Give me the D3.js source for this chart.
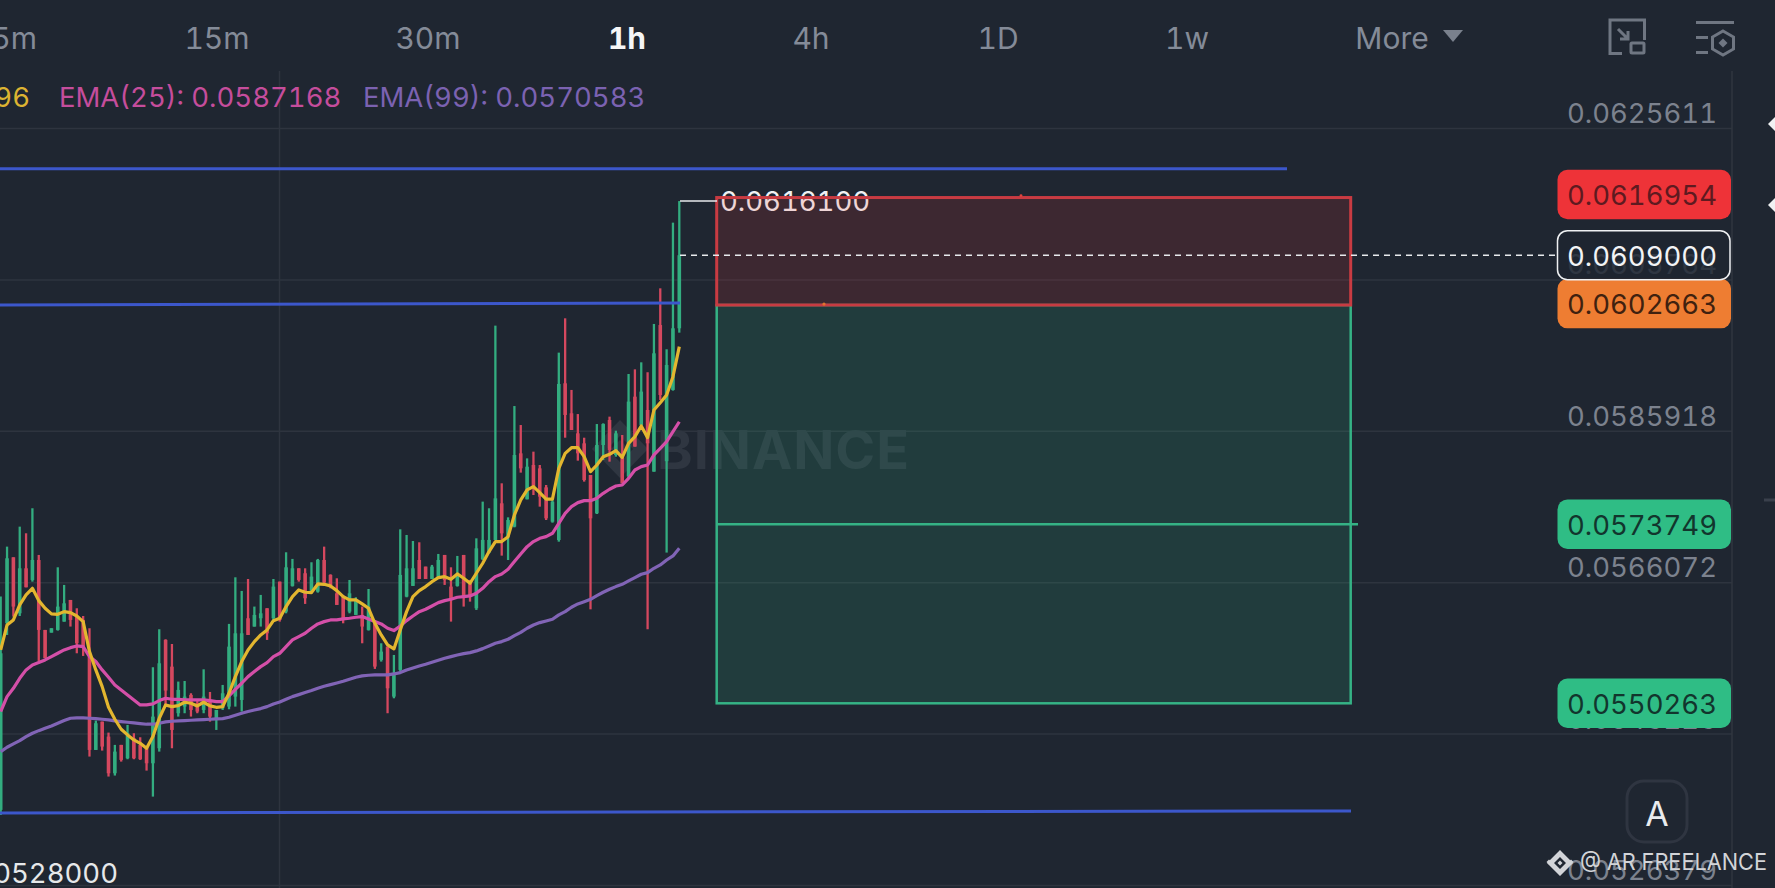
<!DOCTYPE html>
<html><head><meta charset="utf-8">
<script src="https://cdn.jsdelivr.net/npm/d3@7"></script>
<style>html,body{margin:0;padding:0;background:#1f2631;overflow:hidden}svg{display:block}text{font-family:Inter,"Noto Sans",sans-serif;font-variant-numeric:tabular-nums;font-feature-settings:"tnum" 1}</style>
</head><body><svg id="c" width="1775" height="888"></svg>
<script>
// all prices in millionths (0.0625611 = 62561.1)
const sides="GGRGRGRRGG"+"GRRRRGRRGR"+"GRRRGGRRGG"+"RRGRGGGGGR"+"GGRGRGGRRG"+"GRRRRGGRGR"+"GRGGGGRRGG"+"RRGRRGGGGR"+"GGRGRRRGGR"+"RRRRGGRGRG"+"RGRGRGGG";
const high=[56425,57080,56940,57342,57255,57583,56971,55988,56010,56809,
56578,56381,56272,56171,56010,54800,54786,54642,54481,54481,
54743,54634,54581,54459,55499,55997,55866,55804,55311,55319,
55158,55070,55472,55175,54939,55267,56067,56678,56499,56656,
56294,56447,56272,56656,56621,57006,56919,56796,56796,56875,
56919,57080,56718,56665,56447,56643,56416,56294,56525,56119,
55813,55769,55660,57307,57233,57154,57137,56818,56840,56984,
56971,56809,56958,56971,56643,57189,57670,57583,59977,57910,
57464,58923,58674,58237,58325,58150,57888,57713,59623,60073,
59134,58818,58508,58019,58687,58696,58784,58600,58543,59343,
59404,59496,59365,59999,60466,59667,61327,61610];
const upper=[55682,56927,56940,56796,56796,56905,56905,55988,56010,56294,
56337,56381,56163,56119,55638,54765,54786,54590,54393,54481,
54634,54568,54481,54459,54852,55551,55857,55507,55202,55114,
55136,55027,55114,55070,54939,55158,55769,55944,55944,56141,
56185,56206,56272,56556,56621,56809,56796,56796,56731,56687,
56905,56905,56709,56468,56425,56468,56381,56185,56294,56075,
55704,55769,55420,56709,56796,56796,56905,56818,56818,56905,
56971,56556,56709,56971,56643,57058,57168,57168,57713,57648,
57429,58281,58303,58128,58150,58106,57857,57669,59212,59221,
58828,58565,58434,58019,58412,58687,58740,58565,58281,58981,
59046,59112,58871,59614,59985,59461,59942,60900];
const lower=[53629,56075,56294,56206,56547,56643,55988,55617,55953,55988,
56097,56119,55813,55769,54415,54415,54459,54109,54109,54284,
54306,54306,54293,54240,54240,54437,55193,54677,54896,54983,
54939,54918,54939,54852,54830,54961,54983,55114,55070,55922,
56032,56141,55944,56141,56119,56228,56565,56643,56403,56490,
56490,56608,56556,56316,56119,56228,56185,56032,55988,55507,
55595,55223,55114,55464,56425,56565,56656,56656,56656,56665,
56643,56381,56565,56425,56425,56272,56914,57002,57167,57254,
57211,57342,58106,57700,57866,57735,57451,57407,57167,58806,
58609,58303,57953,57451,57517,58412,58347,58281,57910,58000,
58391,58675,58434,58063,59068,58200,59134,59942];
const low=[53563,55922,56163,56171,56547,56621,55573,55617,55953,55979,
56097,56032,55682,55647,54328,54415,54406,54066,54079,54262,
54293,54293,54284,54144,53803,54393,54983,54437,54852,54896,
54852,54896,54896,54786,54677,54939,54948,54983,54918,55922,
56032,56032,55857,56119,56097,56206,56556,56621,56329,56468,
56477,56600,56534,56316,56075,56206,56185,55813,55979,55477,
55573,54896,55092,55442,56416,56565,56656,56656,56656,56665,
56578,56097,56556,56294,56359,56250,56905,56993,57167,56962,
56905,57333,58050,57700,57757,57604,57429,57394,57145,58508,
58609,58207,57932,56258,57508,58216,58194,58259,57910,57980,
58391,58653,55997,58063,59002,57002,59125,59885];
const ema7=[55726,56053,56119,56316,56447,56534,56372,56272,56198,56193,
56228,56215,56171,56097,55704,55464,55245,54974,54817,54686,
54612,54546,54502,54437,54590,54830,55005,54983,54996,55040,
55027,54992,55040,54992,54974,54983,55158,55376,55573,55726,
55835,55922,55988,56110,56141,56294,56425,56512,56482,56477,
56591,56586,56565,56503,56425,56381,56381,56329,56272,56075,
55922,55791,55739,55988,56228,56425,56503,56556,56621,56674,
56687,56652,56722,56665,56600,56731,56862,57015,57146,57146,
57211,57495,57692,57823,57867,57787,57704,57704,58106,58303,
58377,58377,58259,58063,58150,58259,58290,58338,58251,58434,
58522,58662,58509,58871,58967,59068,59308,59701];
const ema25=[54918,55114,55223,55354,55464,55529,55560,55595,55638,55682,
55726,55756,55778,55769,55638,55573,55464,55368,55267,55202,
55136,55070,55005,55005,55018,55062,55092,55079,55079,55070,
55070,55070,55070,55062,55049,55049,55123,55210,55289,55376,
55442,55507,55560,55638,55682,55769,55857,55901,55944,56010,
56067,56097,56119,56119,56132,56141,56154,56163,56132,56097,
56067,56010,55979,56040,56110,56171,56228,56259,56302,56346,
56372,56390,56416,56425,56434,56468,56534,56621,56687,56722,
56783,56884,56984,57080,57146,57189,57211,57255,57386,57517,
57604,57657,57683,57683,57714,57779,57832,57875,57888,57975,
58085,58129,58150,58282,58369,58456,58587,58717];
const ema99=[54393,54450,54494,54537,54590,54634,54668,54699,54730,54765,
54800,54830,54835,54835,54830,54826,54817,54808,54795,54786,
54778,54769,54760,54752,54752,54765,54782,54791,54795,54800,
54804,54808,54813,54817,54821,54826,54843,54870,54896,54918,
54939,54957,54983,55018,55044,55079,55114,55140,55167,55193,
55223,55250,55271,55293,55315,55341,55368,55385,55394,55398,
55398,55398,55411,55429,55464,55490,55516,55538,55564,55590,
55617,55638,55660,55678,55691,55713,55743,55778,55813,55835,
55866,55914,55957,56010,56053,56084,56106,56128,56185,56228,
56285,56329,56359,56390,56438,56482,56521,56556,56586,56630,
56674,56718,56739,56796,56840,56905,56958,57058];
const axisTicks=[62561.1,60576.4,58591.8,56607.2,54622.6,52637.9];
const tabs=["5m","15m","30m","1h","4h","1D","1w","More"];
const trendLines=[[62034,62034],[60247,60274],[53589,53615]];
const stopTop=61656,entry=60247,target1=57374.9,target2=55026.3,lastPrice=60900,peak=61610,lowLabel=52800;
const tags=[["0.0616954",61695.4,"#ee3338","#5e1a20"],["0.0602663",60266.3,"#ee7d32","#40210f"],["0.0573749",57374.9,"#2fbd85","#12352d"],["0.0550263",55026.3,"#2fbd85","#12352d"]];

const svg=d3.select("#c");
const W=1775,H=888,AX=1732,BG="#1f2631";
svg.append("rect").attr("width",W).attr("height",H).attr("fill",BG);
const y=d3.scaleLinear().domain([62561.1,52637.9]).range([128.5,885.5]);
const x=d3.scaleLinear().domain([0,107]).range([0.7,679.3]);
const F='Inter,"Noto Sans",sans-serif';

// grid
svg.append("g").selectAll("line").data(axisTicks).join("line").attr("x1",0).attr("x2",AX).attr("y1",d=>y(d)).attr("y2",d=>y(d)).attr("stroke","#2e343f").attr("stroke-width",1.5);
svg.append("line").attr("x1",279.5).attr("x2",279.5).attr("y1",71).attr("y2",H).attr("stroke","#2e343f").attr("stroke-width",1.5);
svg.append("line").attr("x1",AX).attr("x2",AX).attr("y1",71).attr("y2",H).attr("stroke","#30363f").attr("stroke-width",1.5);

// axis labels
const ax=d3.axisLeft(y).tickValues(axisTicks).tickSize(0).tickPadding(0).tickFormat(d=>(d/1e6).toFixed(7));
const ag=svg.append("g").attr("transform","translate(1717,0)").call(ax);
ag.select(".domain").remove();
ag.selectAll("text").attr("fill","#7c828e").style("font-size","27.5px").style("font-family",F).attr("dy",-6);

// watermark
const wm=svg.append("g").attr("fill","#2f3641");
wm.append("text").attr("x",657).attr("y",469).text("BINANCE").style("font-size","54px").style("font-weight",700).attr("textLength",252);
function dia(g,cx,cy,r){g.append("path").attr("d",`M${cx-r},${cy}L${cx},${cy-r}L${cx+r},${cy}L${cx},${cy+r}Z`);}
const wl=wm.append("g").attr("fill-rule","evenodd");
wl.append("path").attr("d","M620,420L648,449L620,478L592,449ZM620,436L607,449L620,462L633,449Z");
dia(wl,620,449,9);

// candles
const G="#33ad80",R="#d5485f";
const cg=svg.append("g");
high.forEach((h,i)=>{
  const col=sides[i]==="G"?G:R;
  cg.append("line").attr("x1",x(i)).attr("x2",x(i)).attr("y1",y(h)).attr("y2",y(low[i])).attr("stroke",col).attr("stroke-width",2.3);
  cg.append("rect").attr("x",x(i)-1.8).attr("width",3.6).attr("y",y(upper[i])).attr("height",Math.max(1.5,y(lower[i])-y(upper[i]))).attr("fill",col);
});

// trend lines
const tlEnd=[1287,680,1351];
trendLines.forEach((t,i)=>svg.append("line").attr("x1",0).attr("x2",tlEnd[i]).attr("y1",y(t[0])).attr("y2",y(t[1])).attr("stroke","#3c57cb").attr("stroke-width",3));

// EMA lines
const ln=d3.line().x((d,i)=>x(i)).y(d=>y(d)).curve(d3.curveLinear);
[[ema99,"#8164b6"],[ema25,"#d44fa8"],[ema7,"#e3b62f"]].forEach(([a,c])=>svg.append("path").attr("d",ln(a)).attr("fill","none").attr("stroke",c).attr("stroke-width",3.2).attr("stroke-linejoin","round"));

// position box
const bx0=716.7,bx1=1350.7;
svg.append("rect").attr("x",bx0).attr("width",bx1-bx0).attr("y",y(entry)).attr("height",y(target2)-y(entry)).attr("fill","#2fbd85").attr("fill-opacity",.15).attr("stroke","#35b285").attr("stroke-width",2.5);
svg.append("line").attr("x1",bx0).attr("x2",1358).attr("y1",y(target1)).attr("y2",y(target1)).attr("stroke","#35b285").attr("stroke-width",2.5);
svg.append("text").attr("x",720).attr("y",211).text((peak/1e6).toFixed(7)).attr("fill","#f0f1f3").style("font-size","27.5px");
svg.append("rect").attr("x",bx0).attr("width",bx1-bx0).attr("y",y(stopTop)).attr("height",y(entry)-y(stopTop)).attr("fill","#ee3338").attr("fill-opacity",.15).attr("stroke","#c83b42").attr("stroke-width",3);
svg.append("circle").attr("cx",824).attr("cy",y(entry)-1).attr("r",1.6).attr("fill","#e0722f");
svg.append("circle").attr("cx",1021).attr("cy",y(stopTop)-2).attr("r",1.4).attr("fill","#e0443c");
svg.append("line").attr("x1",680).attr("x2",1557).attr("y1",y(lastPrice)).attr("y2",y(lastPrice)).attr("stroke","#e8eaed").attr("stroke-width",1.5).attr("stroke-dasharray","6 5");
svg.append("line").attr("x1",680).attr("x2",717).attr("y1",y(peak)).attr("y2",y(peak)).attr("stroke","#e8eaed").attr("stroke-width",1.5);

// price tags
const TX=1557.5,TW=173.5,TH=49.5;
tags.forEach(([t,v,bg,fg])=>{
  const cy=y(v);
  svg.append("rect").attr("x",TX).attr("y",cy-TH/2).attr("width",TW).attr("height",TH).attr("rx",10).attr("fill",bg);
  svg.append("text").attr("x",1717).attr("y",cy+10.5).attr("text-anchor","end").attr("fill",fg).style("font-size","27.5px").text(t);
});
svg.append("rect").attr("x",TX).attr("y",y(lastPrice)-24.5).attr("width",TW-1).attr("height",49).attr("rx",10).attr("fill",BG).attr("fill-opacity",.82).attr("stroke","#eef0f2").attr("stroke-width",1.5);
svg.append("text").attr("x",1717).attr("y",y(lastPrice)+10.5).attr("text-anchor","end").attr("fill","#f2f3f5").style("font-size","27.5px").text((lastPrice/1e6).toFixed(7));

// low label
svg.append("text").attr("x",118).attr("y",883).attr("text-anchor","end").attr("fill","#e6e8ea").style("font-size","27.5px").text((lowLabel/1e6).toFixed(7));

// legend
const legend=[["EMA(7): 0.0597096",30,"end","#dcb332"],["EMA(25): 0.0587168",59,"start","#c54d9c"],["EMA(99): 0.0570583",363,"start","#7b62b1"]];
legend.forEach(([t,px,a,c])=>svg.append("text").attr("x",px).attr("y",107).attr("text-anchor",a).attr("fill",c).style("font-size","27.5px").text(t));

// tabs
const tabX=[37,217,428,627,811,998,1187,1392];
tabs.forEach((t,i)=>svg.append("text").attr("x",tabX[i]).attr("y",49).attr("text-anchor",i===0?"end":"middle").attr("fill",t==="1h"?"#f5f6f7":"#848b98").style("font-weight",t==="1h"?700:400).style("font-size","30px").text(t));
svg.append("path").attr("d","M1443,30L1463,30L1453,42Z").attr("fill","#7a818d");

// top right icons
const ic=svg.append("g").attr("fill","none").attr("stroke","#6f7682").attr("stroke-width",3);
ic.append("path").attr("d","M1622,53.5H1610V20H1644.5V40M1618,29L1628,39M1628,31V39H1620");
ic.append("rect").attr("x",1631).attr("y",43).attr("width",13).attr("height",10).attr("rx",1);
ic.append("path").attr("d","M1696,22.5H1734M1696,37.5H1708M1696,52.5H1708");
ic.append("path").attr("d","M1723,31L1733.5,37V49L1723,55L1712.5,49V37Z");
ic.append("path").attr("d","M1723,38.5L1727.5,43L1723,47.5L1718.5,43Z").attr("fill","#6f7682").attr("stroke","none");

// far right
[124,205].forEach(c=>svg.append("path").attr("d",`M1768,${c}L1775,${c-7}V${c+7}Z`).attr("fill","#f0f1f3"));
svg.append("line").attr("x1",1764).attr("x2",1775).attr("y1",500).attr("y2",500).attr("stroke","#3a404c").attr("stroke-width",3);

// A button
svg.append("rect").attr("x",1627).attr("y",781).attr("width",60).attr("height",61).attr("rx",17).attr("fill",BG).attr("stroke","#2f3541").attr("stroke-width",3);
svg.append("text").attr("x",1657).attr("y",826).attr("text-anchor","middle").attr("fill","#e9ebee").style("font-size","34px").text("A");

// footer watermark
const lg=svg.append("g").attr("fill","#d2d4d8");
lg.append("path").attr("fill-rule","evenodd").attr("d","M1560,850L1573,863L1560,876L1547,863ZM1560,857L1554,863L1560,869L1566,863Z");
dia(lg,1560,863,2.5);dia(lg,1549,862,2.5);dia(lg,1571,862,2.5);
svg.append("text").attr("x",1580).attr("y",870).attr("fill","#d2d4d8").style("font-size","23px").attr("textLength",187).attr("lengthAdjust","spacingAndGlyphs").text("@ AR FREELANCE");
</script></body></html>
